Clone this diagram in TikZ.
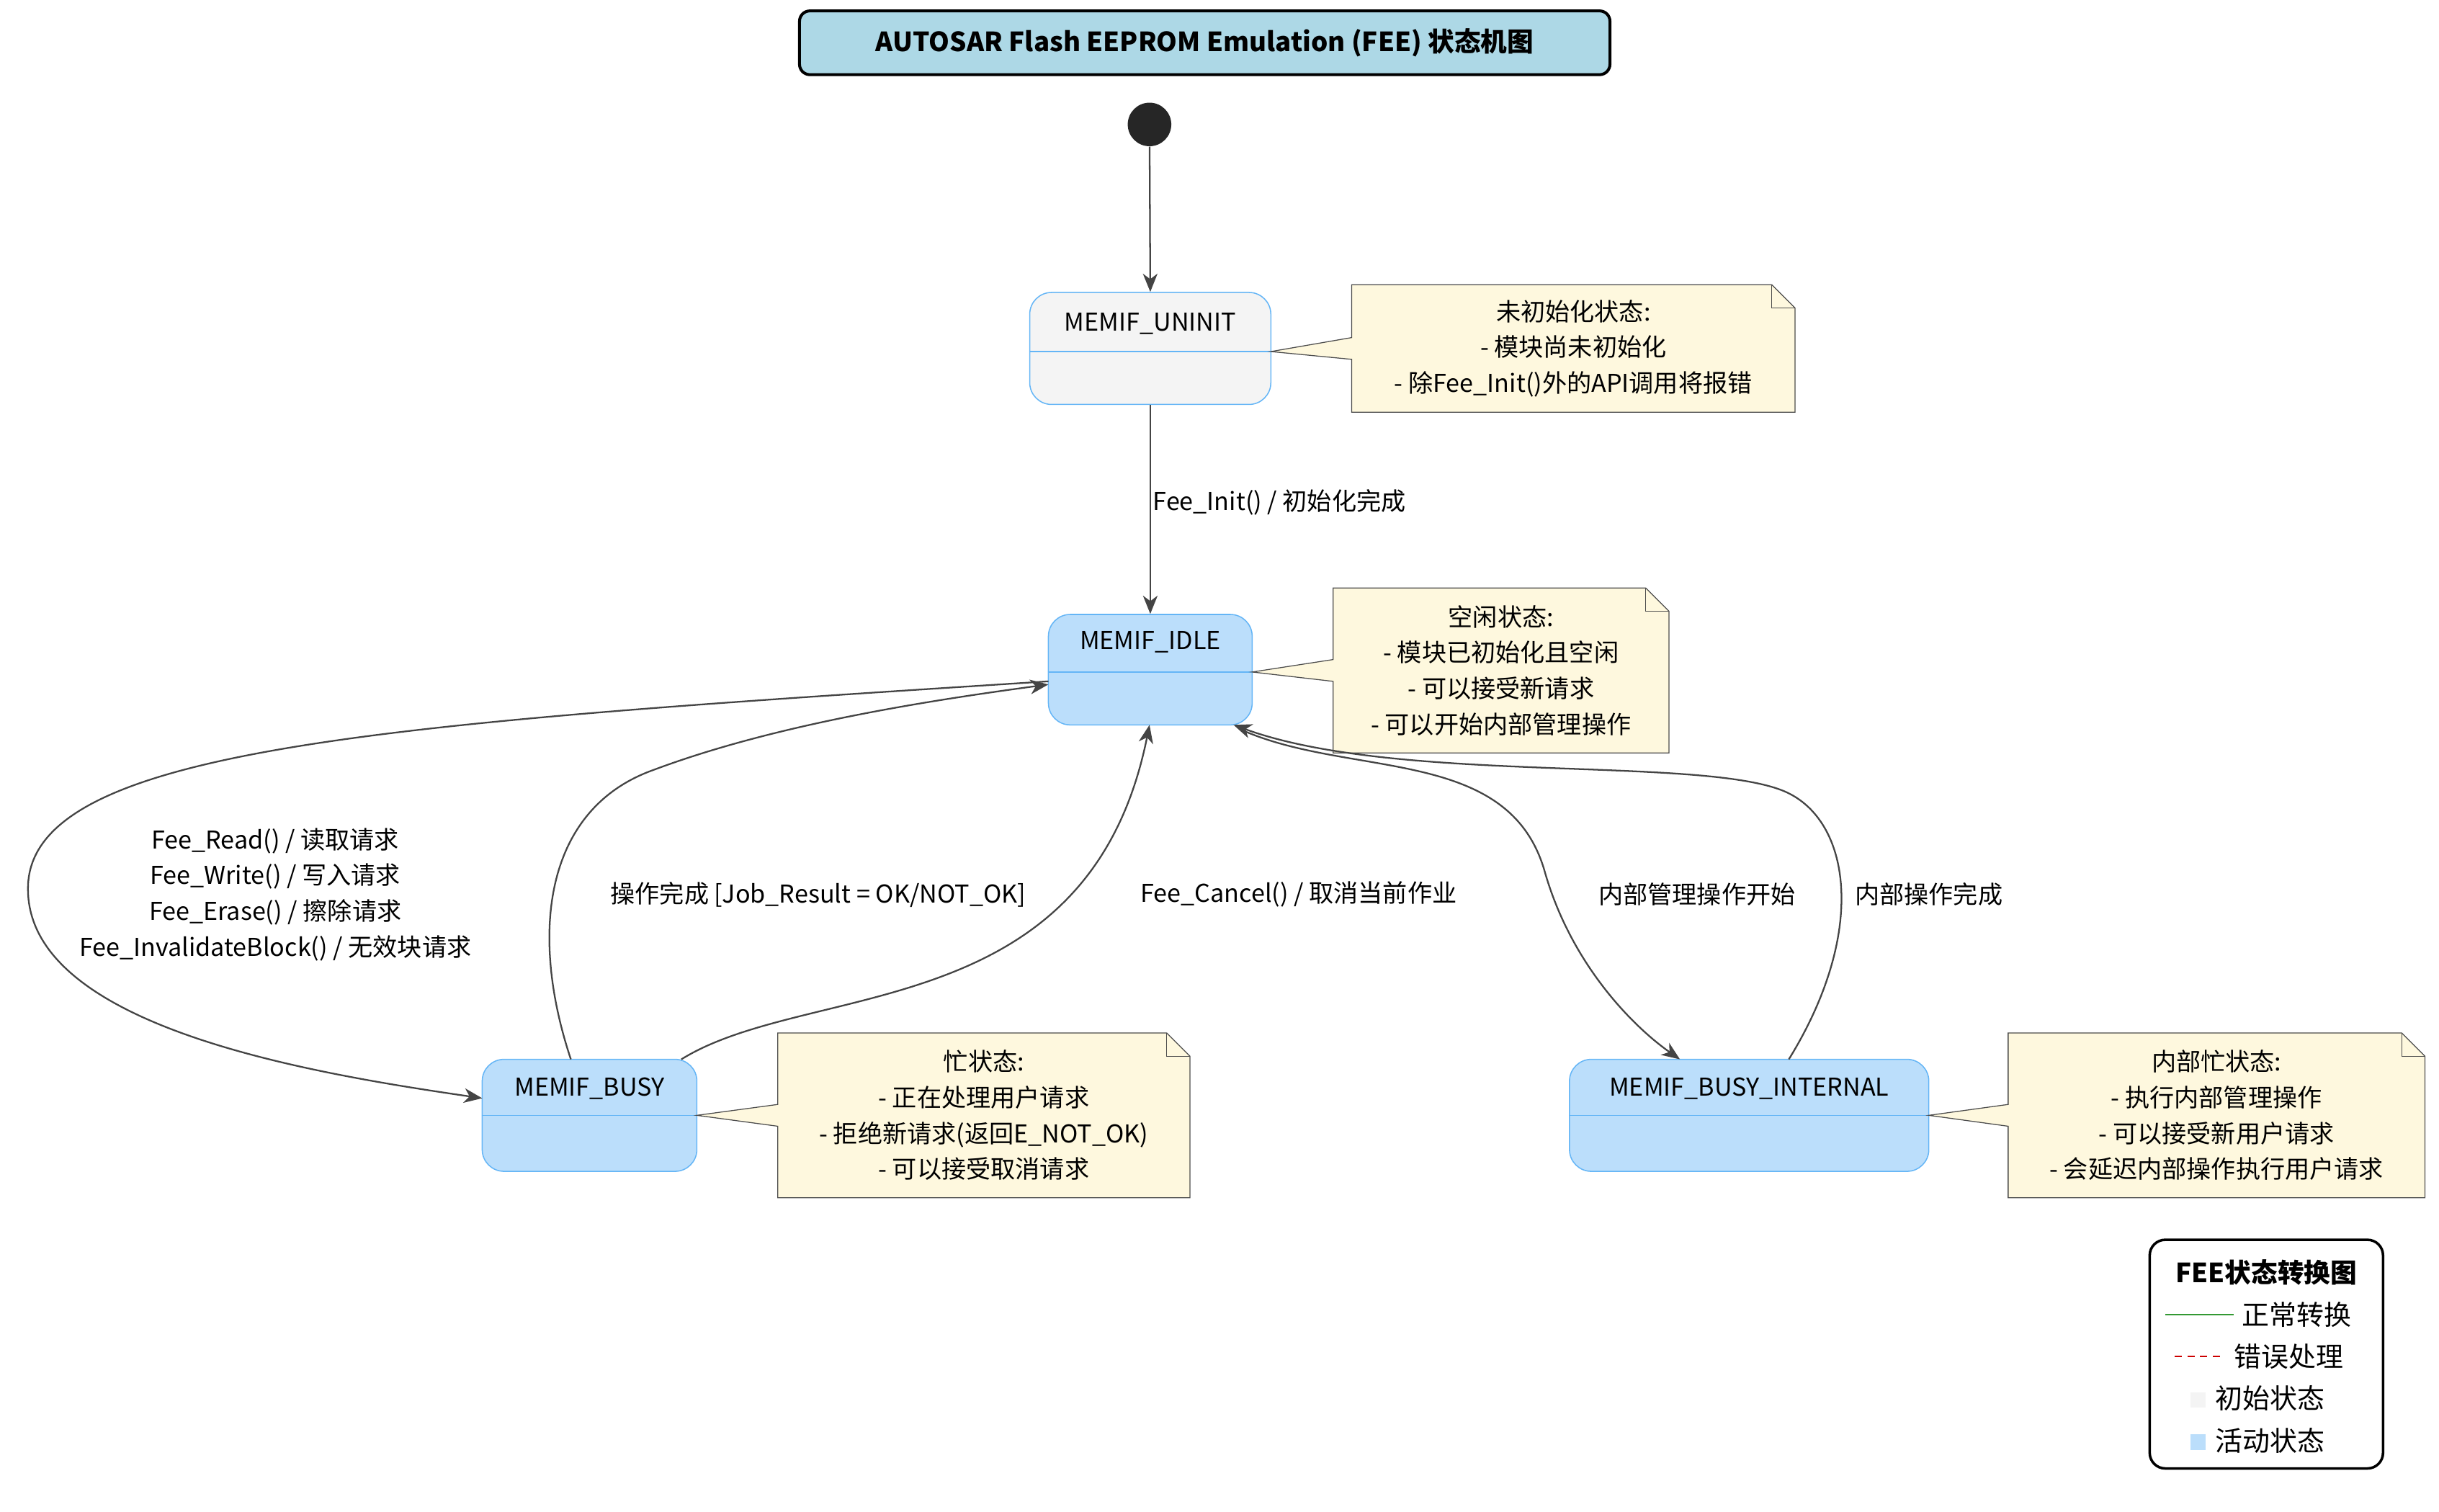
\documentclass[tikz,border=0pt]{standalone}
\usepackage{fontspec}
\setmainfont{Noto Sans CJK SC}
\usetikzlibrary{arrows.meta}
\definecolor{stfill}{HTML}{BBDEFB}
\definecolor{unfill}{HTML}{F4F4F4}
\definecolor{stline}{HTML}{64B5F6}
\definecolor{notefill}{HTML}{FEF8DE}
\definecolor{edge}{HTML}{444444}
\definecolor{titlefill}{HTML}{ADD8E6}
\tikzset{
  stbox/.style={draw=stline, fill=stfill, rounded corners=0.42cm, line width=0.6pt},
  lbl/.style={font=\fontsize{13.5}{19.6}\selectfont, inner sep=0pt, align=center},
  conn/.style={draw=edge, line width=0.9pt, -{Stealth[length=10pt,width=8pt,inset=3pt]}},
  notestyle/.style={draw=black!70, fill=notefill, line width=0.5pt},
}
\newcommand{\mynote}[7]{% name, x1,y1,x2,y2, anchor node point, text
  \fill[notefill] (#2,#3) -- (#4-15,#3) -- (#4,#3+15) -- (#4,#5) -- (#2,#5) -- cycle;
  \draw[notestyle] (#2,#3) -- (#4-15,#3) -- (#4,#3+15) -- (#4,#5) -- (#2,#5) -- (#2,{(#3+#5)/2+7}) -- #6 -- (#2,{(#3+#5)/2-7}) -- cycle;
  \draw[notestyle,fill=none] (#4-15,#3) -- (#4-15,#3+15) -- (#4,#3+15);
  \node[lbl] (#1) at ({(#2+#4)/2},{(#3+#5)/2}) {#7};
}
\begin{document}
\begin{tikzpicture}[x=0.03cm,y=-0.03cm]
\useasboundingbox (0,0) rectangle (1568,972);
% title
\node[draw=black, line width=1.6pt, fill=titlefill, rounded corners=0.2cm, minimum width=521*0.03cm, minimum height=41*0.03cm, font=\fontsize{14.5}{18}\selectfont\bfseries] (title) at (774.5,27.5) {AUTOSAR Flash EEPROM Emulation (FEE) 状态机图};
% initial
\node[circle, fill=black!85, minimum size=28*0.03cm, inner sep=0pt] (init) at (739,80) {};
% states
\node[stbox, fill=unfill, minimum width=155*0.03cm, minimum height=72*0.03cm] (uninit) at (739.5,224) {};
\draw[stline, line width=0.6pt] (uninit.west |- 0,226) -- (uninit.east |- 0,226);
\node[lbl] (uninitT) at (739.5,208) {MEMIF\_UNINIT};
\node[stbox, minimum width=131*0.03cm, minimum height=71*0.03cm] (idle) at (739.5,430.5) {};
\draw[stline, line width=0.6pt] (idle.west |- 0,432) -- (idle.east |- 0,432);
\node[lbl] (idleT) at (739.5,413) {MEMIF\_IDLE};
\node[stbox, minimum width=138*0.03cm, minimum height=72*0.03cm] (busy) at (379,717) {};
\draw[stline, line width=0.6pt] (busy.west |- 0,717) -- (busy.east |- 0,717);
\node[lbl] (busyT) at (379,700) {MEMIF\_BUSY};
\node[stbox, minimum width=231*0.03cm, minimum height=72*0.03cm] (bint) at (1124.5,717) {};
\draw[stline, line width=0.6pt] (bint.west |- 0,717) -- (bint.east |- 0,717);
\node[lbl] (bintT) at (1124.5,700) {MEMIF\_BUSY\_INTERNAL};
% notes
\mynote{n1}{869}{183}{1154}{265}{(817,226)}{未初始化状态:\\- 模块尚未初始化\\- 除Fee\_Init()外的API调用将报错}
\mynote{n2}{857}{378}{1073}{484}{(805,432)}{空闲状态:\\- 模块已初始化且空闲\\- 可以接受新请求\\- 可以开始内部管理操作}
\mynote{n3}{500}{664}{765}{770}{(448,717)}{忙状态:\\- 正在处理用户请求\\- 拒绝新请求(返回E\_NOT\_OK)\\- 可以接受取消请求}
\mynote{n4}{1291}{664}{1559}{770}{(1240,717)}{内部忙状态:\\- 执行内部管理操作\\- 可以接受新用户请求\\- 会延迟内部操作执行用户请求}
% edges
\draw[conn] (init) -- (uninit.north);
\draw[conn] (uninit.south) -- (idle.north);
\node[lbl, anchor=west] (l1) at (741,323) {Fee\_Init() / 初始化完成};
\coordinate (idleL1) at (674,438);
\coordinate (idleL2) at (674,440);
\coordinate (idleB) at (793,466);
\coordinate (busyL) at (310,706);
\draw[conn] (idleL1) .. controls (250,465) and (20,480) .. (18,570) .. controls (16,660) and (200,690) .. (busyL);
\node[lbl] (l2) at (177,575) {Fee\_Read() / 读取请求\\Fee\_Write() / 写入请求\\Fee\_Erase() / 擦除请求\\Fee\_InvalidateBlock() / 无效块请求};
\draw[conn] (367,681) .. controls (340,600) and (350,520) .. (420,495) .. controls (500,465) and (600,450) .. (idleL2);
\node[lbl] (l3) at (526,575) {操作完成 [Job\_Result = OK/NOT\_OK]};
\draw[conn] (438,681) .. controls (520,630) and (700,660) .. (739,466);
\node[lbl, anchor=west] (l4) at (733,575) {Fee\_Cancel() / 取消当前作业};
\draw[conn] (800,470) .. controls (870,500) and (970,480) .. (993,560) .. controls (1010,620) and (1050,660) .. (1080,681);
\node[lbl] (l5) at (1091,575) {内部管理操作开始};
\draw[conn] (1150,681) .. controls (1200,600) and (1190,530) .. (1150,510) .. controls (1100,485) and (900,505) .. (idleB);
\node[lbl] (l6) at (1240,575) {内部操作完成};
% legend
\node[draw=black, line width=1.4pt, rounded corners=0.3cm, minimum width=150*0.03cm, minimum height=147*0.03cm] (leg) at (1457,870.5) {};
\node[lbl, font=\fontsize{14.5}{18}\selectfont\bfseries] (legT) at (1457,818) {FEE状态转换图};
\draw[green!50!black!80, line width=0.8pt] (1392,845) -- (1436,845);
\node[lbl, anchor=west, font=\fontsize{15}{18}\selectfont] (lg1) at (1441,845) {正常转换};
\draw[red!80!black, dashed, line width=0.8pt, dash pattern=on 4pt off 3pt] (1398,872) -- (1430,872);
\node[lbl, anchor=west, font=\fontsize{15}{18}\selectfont] (lg2) at (1436,872) {错误处理};
\fill[unfill] (1408,895) rectangle (1418,905);
\node[lbl, anchor=west, font=\fontsize{15}{18}\selectfont] (lg3) at (1424,899) {初始状态};
\fill[stfill] (1408,922) rectangle (1418,932);
\node[lbl, anchor=west, font=\fontsize{15}{18}\selectfont] (lg4) at (1424,926) {活动状态};
\end{tikzpicture}
\end{document}
